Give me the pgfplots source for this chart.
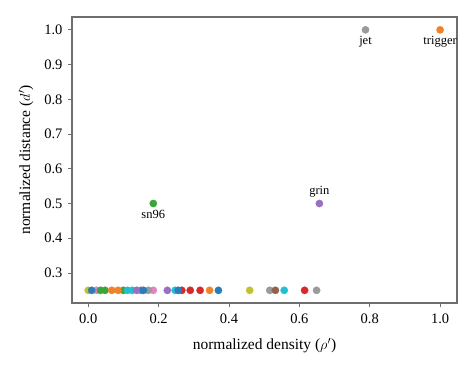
\documentclass[border=0pt]{standalone}
\usepackage{pgfplots}
\pgfplotsset{compat=1.18}
\usepackage{fontspec}
\setmainfont{Liberation Serif}
\definecolor{tblue}{HTML}{2B7DB8}
\definecolor{torange}{HTML}{F0832A}
\definecolor{tgreen}{HTML}{3AA63A}
\definecolor{tred}{HTML}{D42A2C}
\definecolor{tpurple}{HTML}{9A6FC0}
\definecolor{tbrown}{HTML}{95614F}
\definecolor{tpink}{HTML}{E382C6}
\definecolor{tgray}{HTML}{9A9A9A}
\definecolor{tolive}{HTML}{C1C22E}
\definecolor{tcyan}{HTML}{22BFD0}
\definecolor{axgray}{HTML}{6E6E6E}
\pgfplotsset{dot/.style={only marks, mark=*, mark size=3.7pt, color=#1, mark options={fill=#1, draw=#1, line width=0.2pt}}}
\begin{document}
\begin{tikzpicture}
\begin{axis}[
  scale only axis, width=385pt, height=286pt,
  xmin=-0.046, xmax=1.048, ymin=0.2135, ymax=1.037,
  xtick={0,0.2,0.4,0.6,0.8,1.0},
  ytick={0.3,0.4,0.5,0.6,0.7,0.8,0.9,1.0},
  /pgf/number format/assume math mode=true,
  xticklabel style={yshift=-3pt, /pgf/number format/.cd, fixed, fixed zerofill, precision=1},
  yticklabel style={xshift=-2pt, /pgf/number format/.cd, fixed, fixed zerofill, precision=1},
  tick align=outside, xtick pos=bottom, ytick pos=left,
  axis line style={axgray, line width=1.1pt},
  major tick length=4pt,
  tick style={axgray, line width=0.9pt},
  ticklabel style={font=\fontsize{14.5}{16}\selectfont},
  label style={font=\fontsize{15.5}{17}\selectfont},
  xlabel={normalized density ($\rho'$)},
  ylabel={normalized distance ($d'$)},
  xlabel style={yshift=-8pt},
  ylabel style={yshift=4pt},
  clip=false,
]
\coordinate (bl) at (rel axis cs:0,0);
\addplot[dot=tolive] coordinates {(0.000,0.25) (0.459,0.25)};
\addplot[dot=tpink] coordinates {(0.024,0.25) (0.185,0.25)};
\addplot[dot=tgreen] coordinates {(0.035,0.25) (0.048,0.25) (0.100,0.25) (0.185,0.5)};
\addplot[dot=torange] coordinates {(0.067,0.25) (0.085,0.25) (0.345,0.25) (1.0,1.0)};
\addplot[dot=tcyan] coordinates {(0.112,0.25) (0.125,0.25) (0.247,0.25) (0.557,0.25)};
\addplot[dot=tpurple] coordinates {(0.138,0.25) (0.150,0.25) (0.225,0.25) (0.657,0.5)};
\addplot[dot=tgray] coordinates {(0.171,0.25) (0.516,0.25) (0.649,0.25) (0.788,1.0)};
\addplot[dot=tred] coordinates {(0.266,0.25) (0.290,0.25) (0.318,0.25) (0.615,0.25)};
\addplot[dot=tbrown] coordinates {(0.532,0.25)};
\addplot[dot=tblue] coordinates {(0.010,0.25) (0.157,0.25) (0.256,0.25) (0.370,0.25)};
\node[below=3pt, font=\fontsize{12.5}{14}\selectfont] at (axis cs:0.185,0.5) {sn96};
\node[above=3pt, font=\fontsize{12.5}{14}\selectfont] at (axis cs:0.657,0.5) {grin};
\node[below=3pt, font=\fontsize{12.5}{14}\selectfont] at (axis cs:0.788,1.0) {jet};
\node[below=3pt, font=\fontsize{12.5}{14}\selectfont] at (axis cs:1.0,1.0) {trigger};
\end{axis}
\pgfresetboundingbox
\path[use as bounding box] (bl) ++(-72pt,-67pt) rectangle ++(474pt,370pt);
\end{tikzpicture}
\end{document}
